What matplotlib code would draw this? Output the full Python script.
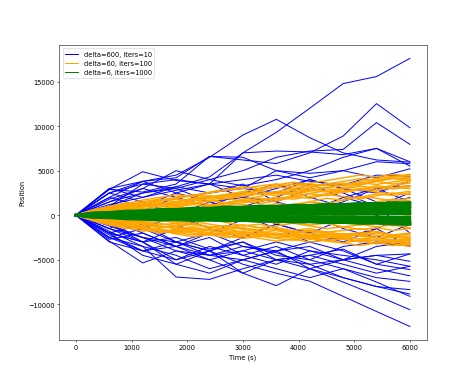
import numpy as np
import matplotlib
matplotlib.use("Agg")
import matplotlib.pyplot as plt

# delta=600, iters=10 : positions at t = 0, 600, ..., 6000
t_blue = np.arange(0, 6001, 600)
blue_walks = [
    [0, 1500, 2500, 3200, 4300, 7000, 9300, 12000, 14770, 15560, 17600],
    [0, 2000, 3800, 4500, 6500, 9000, 10760, 8700, 7000, 6200, 5960],
    [0, 2900, 2600, 3500, 6600, 6200, 5800, 7000, 8880, 12520, 9820],
    [0, 1800, 3000, 5000, 4000, 5000, 6500, 7200, 7380, 10390, 7950],
    [0, 2500, 3800, 4200, 6600, 6500, 5000, 4200, 5000, 6000, 5780],
    [0, 2900, 4880, 3900, 3500, 4000, 4500, 3800, 3400, 4500, 4380],
    [0, 1200, 2000, 2800, 3500, 7000, 7200, 7100, 6800, 7500, 5510],
    [0, 2500, 3500, 3000, 4000, 3300, 4000, 5000, 6500, 7500, 6000],
    [0, 3000, 2000, 3200, 2500, 3000, 5000, 4700, 5000, 4200, 5210],
    [0, 1000, 3500, 4000, 3500, 3000, 2500, 4000, 3000, 2500, 3820],
    [0, 2000, 1000, 2500, 3500, 2000, 1500, 3000, 2500, 1000, 2500],
    [0, -1500, 500, 2000, 1000, 2500, 3500, 2000, 1000, 0, -1500],
    [0, 3000, 3800, 2500, 1500, 2000, 3000, 4000, 3000, 1500, 500],
    [0, -2000, -3000, -1500, 0, 1000, 2000, 3500, 2000, 1000, 2000],
    [0, 1500, 3000, 2000, 2500, 3500, 1500, 500, 1500, 3000, 3300],
    [0, -1000, -2500, -3500, -2000, -500, 1000, 0, -1500, -2500, -1000],
    [0, 2500, 1500, 0, -1500, -2500, -1000, 500, 2000, 3000, 1500],
    [0, 500, -1500, -3000, -4000, -2500, -1000, -2000, -3000, -1500, 0],
    [0, -2500, -1500, 0, 1500, 500, -1000, -2000, -500, 1000, -2000],
    [0, 1000, 2500, 3000, 1500, 0, -1500, -3000, -2500, -1500, -3480],
    [0, -1800, -3500, -6930, -7200, -6000, -5000, -4500, -5500, -6500, -5730],
    [0, -2900, -5350, -4000, -4500, -3500, -4200, -5500, -7000, -8000, -8840],
    [0, -2500, -3500, -4500, -6000, -5000, -4000, -6000, -7500, -9000, -10600],
    [0, -2000, -4500, -5500, -4000, -5500, -6500, -7400, -9100, -10800, -12480],
    [0, -1500, -2500, -4000, -5000, -6500, -7900, -6000, -5000, -4500, -4340],
    [0, -1000, -3000, -5500, -6500, -5000, -6000, -7000, -6000, -7500, -9100],
    [0, -2200, -4000, -3000, -4000, -6500, -5000, -6000, -7000, -8000, -8350],
    [0, -2000, -3000, -5000, -3500, -4500, -3500, -5000, -6000, -7000, -7420],
    [0, -1500, -3000, -2500, -3800, -3000, -5000, -4500, -3800, -5500, -6100],
    [0, -2700, -2000, -3500, -5000, -4000, -3000, -4000, -5000, -4500, -5170],
    [0, -3000, -4000, -5000, -4000, -3000, -4500, -5000, -3500, -3000, -3480],
    [0, -1200, -2500, -3000, -2000, -3500, -4000, -3000, -4000, -5500, -4340],
    [0, -2000, -1000, -3000, -4500, -4000, -5000, -5500, -5000, -3500, -3000],
    [0, -500, -2000, -3500, -4500, -5000, -4000, -3500, -5000, -6000, -6800],
    [0, -2500, -4000, -3500, -2500, -4500, -5500, -4000, -4500, -5000, -5730],
]

# delta=60, iters=100 : read every 300 s
t_orange = np.arange(0, 6001, 300)
orange_walks = [
    [0, 600, 900, 1300, 1700, 2000, 2300, 2100, 2500, 2800, 3000, 3300, 3500, 3200, 3600, 3900, 4200, 4500, 4300, 4600, 4400],
    [0, -500, -900, -1200, -1500, -1800, -1600, -2000, -2200, -2000, -2400, -2300, -2600, -2800, -2500, -2900, -3100, -2800, -3200, -3000, -3300],
    [0, 400, 800, 600, 1000, 1400, 1200, 1600, 1900, 2300, 2100, 2500, 2200, 2600, 3000, 2700, 3100, 3400, 3800, 3500, 3800],
    [0, -300, -700, -1000, -800, -1200, -1500, -1300, -1700, -1500, -1900, -2200, -2000, -2300, -2100, -2500, -2300, -2700, -2500, -2900, -2700],
    [0, 500, 300, 700, 1100, 900, 1300, 1700, 1500, 1900, 2300, 2800, 3200, 3500, 3300, 3000, 2700, 2900, 3300, 3100, 3000],
    [0, -400, -200, -600, -1000, -1400, -1100, -900, -1300, -1600, -1400, -1800, -2100, -1900, -1700, -2000, -2300, -2100, -1800, -2200, -2000],
    [0, 300, 700, 1100, 1500, 1800, 1500, 1900, 2200, 1900, 1600, 1300, 1600, 2000, 2400, 2200, 2600, 2900, 2600, 2400, 2700],
    [0, -200, -600, -400, -800, -1100, -900, -600, -400, -800, -1200, -1000, -1400, -1700, -1500, -1900, -1700, -1500, -1900, -2300, -2500],
    [0, 200, 500, 900, 700, 1100, 800, 500, 900, 1300, 1600, 1900, 1700, 2100, 1900, 2300, 2100, 1800, 2200, 2500, 2300],
    [0, -600, -1000, -1400, -1800, -1500, -1900, -2200, -2000, -2300, -2600, -2400, -2100, -2400, -2700, -2400, -2600, -2900, -3200, -2900, -3100],
    [0, 300, 600, 400, 700, 500, 900, 1200, 1000, 1400, 1200, 900, 1300, 1100, 1500, 1900, 1700, 2100, 1900, 1600, 1900],
    [0, -300, -100, -400, -700, -500, -900, -700, -1000, -1300, -1100, -1400, -1200, -900, -1200, -1500, -1300, -1600, -1400, -1700, -1500],
    [0, 400, 200, -100, 300, 600, 900, 700, 1100, 1400, 1800, 2100, 2500, 2300, 2700, 3100, 3400, 3800, 4100, 4400, 4200],
    [0, -200, 100, -300, -600, -300, -700, -1000, -1400, -1200, -1600, -1900, -2300, -2600, -2400, -2800, -2600, -3000, -2800, -3200, -3500],
    [0, 500, 900, 700, 400, 700, 1000, 1400, 1200, 900, 600, 800, 500, 900, 1200, 1000, 1300, 1100, 1500, 1800, 1600],
    [0, -400, -800, -600, -300, -700, -400, -100, -500, -300, -700, -500, -900, -700, -1100, -900, -1300, -1100, -900, -1200, -1000],
    [0, 200, -100, 300, 100, 400, 200, 600, 400, 700, 500, 800, 1100, 900, 1200, 1000, 700, 1000, 1300, 1100, 1400],
    [0, -500, -300, 100, -200, -500, -200, -500, -300, 100, 400, 200, 500, 300, -100, 200, -200, -500, -200, -600, -800],
    [0, 300, 700, 1000, 1300, 1100, 1500, 1300, 1700, 2100, 2400, 2700, 2400, 2800, 3100, 3500, 3800, 4100, 3900, 4300, 4600],
    [0, -300, -600, -900, -1300, -1700, -2000, -1800, -2100, -1900, -2200, -2000, -1700, -2000, -1800, -2100, -2400, -2200, -2500, -2800, -2600],
    [0, 600, 1000, 1400, 1200, 1600, 1900, 2200, 2600, 2900, 3200, 3000, 3400, 3700, 3500, 3300, 3600, 3400, 3800, 4100, 3900],
    [0, -600, -1100, -1500, -1300, -1700, -2100, -2400, -2200, -2500, -2300, -2600, -2900, -2700, -3000, -2800, -3100, -3400, -3100, -3400, -3200],
    [0, 100, 400, 200, 500, 300, 0, 300, 600, 400, 700, 1000, 800, 1200, 1500, 1300, 1700, 2000, 2400, 2200, 2500],
    [0, -100, 200, 0, -300, 100, 400, 200, -100, -400, -200, -500, -300, -700, -400, -800, -600, -1000, -1300, -1100, -1400],
    [0, 400, 700, 1000, 800, 500, 200, 500, 800, 1100, 1400, 1700, 2000, 1800, 2100, 2400, 2700, 3000, 2800, 3100, 3300],
    [0, -500, -800, -1200, -1600, -2000, -1700, -1400, -1700, -1400, -1100, -1400, -1700, -2000, -2300, -2100, -2400, -2200, -2000, -2300, -2100],
    [0, 200, 0, -200, 0, 300, 100, -200, 0, 300, 600, 400, 100, -200, 100, 400, 200, 500, 800, 600, 900],
    [0, -200, -400, -100, 200, 0, -300, -600, -400, -100, 200, 0, -300, -100, -400, -200, 100, -200, -500, -300, 0],
    [0, 350, 650, 950, 1250, 1550, 1800, 1650, 1950, 2250, 2550, 2350, 2650, 2950, 2750, 3050, 3350, 3650, 3450, 3750, 4000],
    [0, -350, -650, -950, -1150, -1350, -1250, -1550, -1750, -1950, -1800, -2100, -2250, -2150, -2350, -2550, -2450, -2650, -2850, -2700, -2900],
    [0, 450, 750, 1050, 900, 1250, 1550, 1800, 2050, 1850, 2150, 2400, 2650, 2450, 2800, 2600, 2950, 3250, 3050, 3350, 3600],
    [0, -450, -750, -650, -950, -1250, -1450, -1650, -1550, -1750, -1950, -2150, -2050, -2250, -2450, -2250, -2050, -2350, -2550, -2450, -2300],
    [0, 250, 500, 800, 1050, 1300, 1050, 1350, 1600, 1400, 1750, 1550, 1850, 2150, 2450, 2750, 2550, 2850, 3150, 2950, 3200],
    [0, -250, -500, -800, -650, -900, -1200, -1050, -1350, -1150, -1450, -1650, -1550, -1850, -2050, -1850, -2150, -1950, -2250, -2450, -2650],
    [0, 550, 850, 1150, 1450, 1700, 2000, 2300, 2050, 2350, 2650, 2900, 3150, 3000, 3300, 3550, 3300, 3600, 3900, 4200, 4100],
    [0, -550, -850, -1100, -1400, -1650, -1850, -1700, -1950, -2200, -2050, -2300, -2500, -2350, -2600, -2850, -2700, -2950, -2750, -3000, -2850],
]

# delta=6, iters=1000 : read every 300 s
t_green = np.arange(0, 6001, 300)
green_walks = [
    [0, 280, 330, 480, 520, 680, 660, 820, 800, 950, 920, 1050, 1020, 1150, 1120, 1250, 1220, 1350, 1330, 1420, 1430],
    [0, -250, -300, -420, -460, -560, -520, -600, -560, -640, -600, -700, -680, -780, -760, -850, -830, -920, -900, -1000, -1040],
    [0, 200, 250, 350, 400, 480, 450, 560, 600, 650, 700, 760, 740, 860, 900, 960, 1000, 1080, 1120, 1200, 1250],
    [0, -200, -180, -300, -350, -400, -380, -450, -480, -520, -500, -580, -620, -660, -640, -720, -760, -800, -780, -880, -900],
    [0, 150, 200, 250, 300, 350, 400, 380, 450, 500, 550, 520, 600, 650, 700, 680, 750, 800, 850, 900, 950],
    [0, -150, -120, -200, -250, -230, -300, -350, -330, -400, -380, -450, -420, -500, -550, -520, -600, -580, -650, -700, -680],
    [0, 100, 150, 120, 200, 250, 220, 300, 350, 320, 400, 450, 420, 500, 550, 520, 600, 650, 620, 700, 750],
    [0, -100, -80, -150, -130, -200, -180, -250, -220, -280, -250, -320, -300, -350, -330, -400, -380, -430, -400, -460, -440],
    [0, 80, 60, 120, 150, 130, 180, 220, 200, 250, 280, 260, 320, 350, 330, 380, 420, 400, 460, 500, 520],
    [0, -50, 0, -60, -20, -80, -40, -100, -60, -120, -80, -140, -100, -160, -120, -180, -140, -200, -160, -220, -200],
    [0, 50, 20, 80, 60, 100, 80, 130, 110, 160, 140, 190, 170, 220, 200, 250, 230, 280, 260, 300, 280],
    [0, -30, 20, -10, 40, 0, 50, 20, 70, 40, 90, 60, 110, 80, 120, 100, 140, 110, 150, 130, 170],
    [0, 120, 180, 220, 280, 300, 360, 400, 460, 480, 540, 580, 620, 680, 720, 760, 820, 860, 900, 960, 1000],
    [0, -120, -160, -240, -280, -320, -360, -380, -420, -460, -480, -520, -560, -600, -620, -660, -700, -740, -760, -800, -820],
    [0, 220, 300, 380, 460, 560, 600, 680, 720, 780, 840, 900, 940, 1000, 1040, 1100, 1150, 1200, 1240, 1300, 1350],
    [0, -220, -260, -360, -400, -480, -460, -520, -540, -600, -580, -650, -700, -740, -720, -800, -820, -880, -860, -940, -980],
]

# big figure at low dpi, so text and lines come out small like the original
fig, ax = plt.subplots(figsize=(10, 8.08), dpi=47.4)

for i, w in enumerate(blue_walks):
    ax.plot(t_blue, w, color='blue',
            label='delta=600, iters=10' if i == 0 else None)
for i, w in enumerate(orange_walks):
    ax.plot(t_orange, w, color='orange', lw=2.2,
            label='delta=60, iters=100' if i == 0 else None)
for i, w in enumerate(green_walks):
    ax.plot(t_green, w, color='green', lw=4,
            label='delta=6, iters=1000' if i == 0 else None)

ax.set_xlabel('Time (s)')
ax.set_ylabel('Position')
leg = ax.legend(loc='upper left')
for h in leg.get_lines():
    h.set_linewidth(1.5)

fig.savefig('out.png', dpi=47.4)
